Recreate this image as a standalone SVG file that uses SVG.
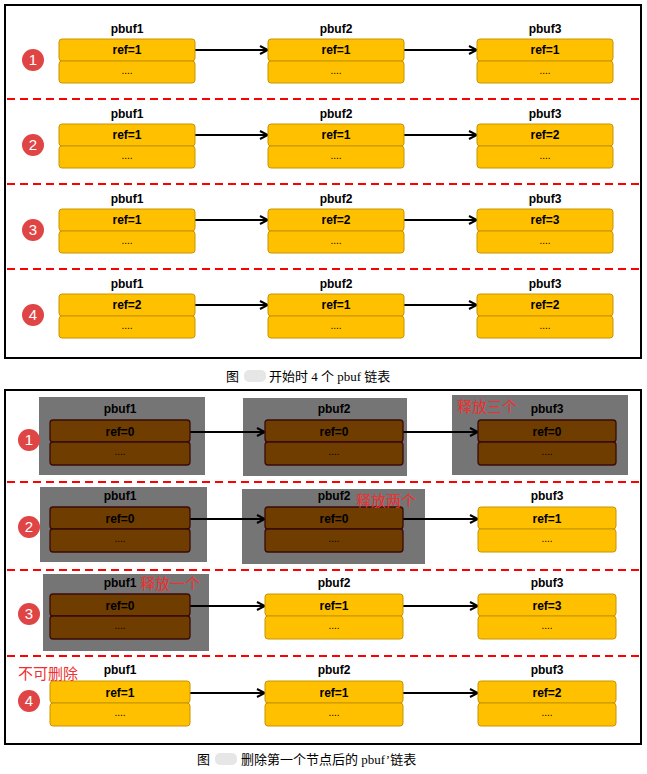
<svg xmlns="http://www.w3.org/2000/svg" width="647" height="774" viewBox="0 0 647 774">
<defs>
<style>
.fr{fill:#fff;stroke:#000;stroke-width:2}
.dash{stroke:#f00;stroke-width:2;stroke-dasharray:8,5}
.y{fill:#ffc000;stroke:#c89400;stroke-width:1}
.b{fill:#6f3d00;stroke:#3a0a0a;stroke-width:1.3}
.g{fill:#757575}
.lbl{font-family:"Liberation Sans",Arial,sans-serif;font-weight:bold;font-size:12px;text-anchor:middle;fill:#000}
.sm{font-family:"Liberation Sans",Arial,sans-serif;font-size:10px;text-anchor:middle;fill:#000}
.num{font-family:"Liberation Sans",Arial,sans-serif;font-size:15px;text-anchor:middle;fill:#fff}
.red{font-family:"Liberation Serif","Noto Sans CJK SC",serif;font-size:15px;fill:#f03030}
.cap{font-family:"Liberation Serif","Noto Sans CJK SC",serif;font-size:13px;fill:#000}
.ar{stroke:#000;stroke-width:2;fill:none;marker-end:url(#m)}
</style>
<marker id="m" markerWidth="10" markerHeight="10" refX="9" refY="5" orient="auto" markerUnits="userSpaceOnUse"><path d="M1,1 L9,5 L1,9" fill="none" stroke="#000" stroke-width="2"/></marker>
</defs>
<rect class="fr" x="5" y="5" width="636" height="353"/>
<rect class="fr" x="5" y="390" width="636" height="354"/>
<g id="dividers">
<line class="dash" x1="7" y1="99" x2="639" y2="99"/>
<line class="dash" x1="7" y1="184" x2="639" y2="184"/>
<line class="dash" x1="7" y1="269" x2="639" y2="269"/>
<line class="dash" x1="7" y1="482" x2="639" y2="482"/>
<line class="dash" x1="7" y1="570" x2="639" y2="570"/>
<line class="dash" x1="7" y1="656" x2="639" y2="656"/>
</g>
<g id="shades">
<rect class="g" x="39" y="397" width="166" height="78"/>
<rect class="g" x="243" y="398" width="164" height="78"/>
<rect class="g" x="452" y="395" width="176" height="80"/>
<rect class="g" x="40" y="487" width="167" height="75"/>
<rect class="g" x="242" y="489" width="183" height="75"/>
<rect class="g" x="43" y="574" width="166" height="77"/>
</g>
<g id="connectors">
<line class="ar" x1="195" y1="50" x2="268" y2="50"/><line class="ar" x1="404" y1="50" x2="477" y2="50"/>
<line class="ar" x1="195" y1="135" x2="268" y2="135"/><line class="ar" x1="404" y1="135" x2="477" y2="135"/>
<line class="ar" x1="195" y1="220" x2="268" y2="220"/><line class="ar" x1="404" y1="220" x2="477" y2="220"/>
<line class="ar" x1="195" y1="305" x2="268" y2="305"/><line class="ar" x1="404" y1="305" x2="477" y2="305"/>
<line class="ar" x1="190" y1="432" x2="265" y2="432"/><line class="ar" x1="403" y1="432" x2="478" y2="432"/>
<line class="ar" x1="190" y1="519" x2="265" y2="519"/><line class="ar" x1="403" y1="519" x2="478" y2="519"/>
<line class="ar" x1="190" y1="606" x2="265" y2="606"/><line class="ar" x1="403" y1="606" x2="478" y2="606"/>
<line class="ar" x1="190" y1="693" x2="265" y2="693"/><line class="ar" x1="403" y1="693" x2="478" y2="693"/>
</g>
<g id="top">
<g id="t1"><circle cx="33" cy="60" r="11" fill="#e04545"/><text class="num" x="33" y="65">1</text>
<text class="lbl" x="127" y="33">pbuf1</text><rect class="y" x="59" y="39" width="136" height="22" rx="3"/><text class="lbl" x="127" y="54">ref=1</text><rect class="y" x="59" y="61" width="136" height="22" rx="3"/><text class="sm" x="127" y="74">....</text>
<text class="lbl" x="336" y="33">pbuf2</text><rect class="y" x="268" y="39" width="136" height="22" rx="3"/><text class="lbl" x="336" y="54">ref=1</text><rect class="y" x="268" y="61" width="136" height="22" rx="3"/><text class="sm" x="336" y="74">....</text>
<text class="lbl" x="545" y="33">pbuf3</text><rect class="y" x="477" y="39" width="136" height="22" rx="3"/><text class="lbl" x="545" y="54">ref=1</text><rect class="y" x="477" y="61" width="136" height="22" rx="3"/><text class="sm" x="545" y="74">....</text></g>
<g id="t2"><circle cx="33" cy="145" r="11" fill="#e04545"/><text class="num" x="33" y="150">2</text>
<text class="lbl" x="127" y="118">pbuf1</text><rect class="y" x="59" y="124" width="136" height="22" rx="3"/><text class="lbl" x="127" y="139">ref=1</text><rect class="y" x="59" y="146" width="136" height="22" rx="3"/><text class="sm" x="127" y="159">....</text>
<text class="lbl" x="336" y="118">pbuf2</text><rect class="y" x="268" y="124" width="136" height="22" rx="3"/><text class="lbl" x="336" y="139">ref=1</text><rect class="y" x="268" y="146" width="136" height="22" rx="3"/><text class="sm" x="336" y="159">....</text>
<text class="lbl" x="545" y="118">pbuf3</text><rect class="y" x="477" y="124" width="136" height="22" rx="3"/><text class="lbl" x="545" y="139">ref=2</text><rect class="y" x="477" y="146" width="136" height="22" rx="3"/><text class="sm" x="545" y="159">....</text></g>
<g id="t3"><circle cx="33" cy="230" r="11" fill="#e04545"/><text class="num" x="33" y="235">3</text>
<text class="lbl" x="127" y="203">pbuf1</text><rect class="y" x="59" y="209" width="136" height="22" rx="3"/><text class="lbl" x="127" y="224">ref=1</text><rect class="y" x="59" y="231" width="136" height="22" rx="3"/><text class="sm" x="127" y="244">....</text>
<text class="lbl" x="336" y="203">pbuf2</text><rect class="y" x="268" y="209" width="136" height="22" rx="3"/><text class="lbl" x="336" y="224">ref=2</text><rect class="y" x="268" y="231" width="136" height="22" rx="3"/><text class="sm" x="336" y="244">....</text>
<text class="lbl" x="545" y="203">pbuf3</text><rect class="y" x="477" y="209" width="136" height="22" rx="3"/><text class="lbl" x="545" y="224">ref=3</text><rect class="y" x="477" y="231" width="136" height="22" rx="3"/><text class="sm" x="545" y="244">....</text></g>
<g id="t4"><circle cx="33" cy="315" r="11" fill="#e04545"/><text class="num" x="33" y="320">4</text>
<text class="lbl" x="127" y="288">pbuf1</text><rect class="y" x="59" y="294" width="136" height="22" rx="3"/><text class="lbl" x="127" y="309">ref=2</text><rect class="y" x="59" y="316" width="136" height="22" rx="3"/><text class="sm" x="127" y="329">....</text>
<text class="lbl" x="336" y="288">pbuf2</text><rect class="y" x="268" y="294" width="136" height="22" rx="3"/><text class="lbl" x="336" y="309">ref=1</text><rect class="y" x="268" y="316" width="136" height="22" rx="3"/><text class="sm" x="336" y="329">....</text>
<text class="lbl" x="545" y="288">pbuf3</text><rect class="y" x="477" y="294" width="136" height="22" rx="3"/><text class="lbl" x="545" y="309">ref=2</text><rect class="y" x="477" y="316" width="136" height="22" rx="3"/><text class="sm" x="545" y="329">....</text></g>
</g>
<g id="caption1"><text class="cap" x="226" y="381">图</text><rect x="244" y="370" width="22" height="12" rx="5" fill="#e6e6e6"/><text class="cap" x="269" y="381">开始时 4 个 pbuf 链表</text></g>
<g id="bottom">
<g id="b1"><circle cx="29" cy="440" r="11" fill="#e04545"/><text class="num" x="29" y="445">1</text>
<text class="lbl" x="120" y="413">pbuf1</text><rect class="b" x="50" y="420" width="140" height="22" rx="3"/><text class="lbl" x="120" y="436">ref=0</text><rect class="b" x="50" y="442" width="140" height="23" rx="3"/><text class="sm" x="120" y="455">....</text>
<text class="lbl" x="334" y="413">pbuf2</text><rect class="b" x="265" y="420" width="138" height="22" rx="3"/><text class="lbl" x="334" y="436">ref=0</text><rect class="b" x="265" y="442" width="138" height="23" rx="3"/><text class="sm" x="334" y="455">....</text>
<text class="lbl" x="547" y="413">pbuf3</text><rect class="b" x="478" y="420" width="138" height="22" rx="3"/><text class="lbl" x="547" y="436">ref=0</text><rect class="b" x="478" y="442" width="138" height="23" rx="3"/><text class="sm" x="547" y="455">....</text>
<text class="red" x="457" y="412">释放三个</text></g>
<g id="b2"><circle cx="29" cy="527" r="11" fill="#e04545"/><text class="num" x="29" y="532">2</text>
<text class="lbl" x="120" y="500">pbuf1</text><rect class="b" x="50" y="507" width="140" height="22" rx="3"/><text class="lbl" x="120" y="523">ref=0</text><rect class="b" x="50" y="529" width="140" height="23" rx="3"/><text class="sm" x="120" y="542">....</text>
<text class="lbl" x="334" y="500">pbuf2</text><rect class="b" x="265" y="507" width="138" height="22" rx="3"/><text class="lbl" x="334" y="523">ref=0</text><rect class="b" x="265" y="529" width="138" height="23" rx="3"/><text class="sm" x="334" y="542">....</text>
<text class="lbl" x="547" y="500">pbuf3</text><rect class="y" x="478" y="507" width="138" height="22" rx="3"/><text class="lbl" x="547" y="523">ref=1</text><rect class="y" x="478" y="529" width="138" height="23" rx="3"/><text class="sm" x="547" y="542">....</text>
<text class="red" x="356" y="506">释放两个</text></g>
<g id="b3"><circle cx="29" cy="614" r="11" fill="#e04545"/><text class="num" x="29" y="619">3</text>
<text class="lbl" x="120" y="587">pbuf1</text><rect class="b" x="50" y="594" width="140" height="22" rx="3"/><text class="lbl" x="120" y="610">ref=0</text><rect class="b" x="50" y="616" width="140" height="23" rx="3"/><text class="sm" x="120" y="629">....</text>
<text class="lbl" x="334" y="587">pbuf2</text><rect class="y" x="265" y="594" width="138" height="22" rx="3"/><text class="lbl" x="334" y="610">ref=1</text><rect class="y" x="265" y="616" width="138" height="23" rx="3"/><text class="sm" x="334" y="629">....</text>
<text class="lbl" x="547" y="587">pbuf3</text><rect class="y" x="478" y="594" width="138" height="22" rx="3"/><text class="lbl" x="547" y="610">ref=3</text><rect class="y" x="478" y="616" width="138" height="23" rx="3"/><text class="sm" x="547" y="629">....</text>
<text class="red" x="140" y="589">释放一个</text></g>
<g id="b4"><circle cx="29" cy="701" r="11" fill="#e04545"/><text class="num" x="29" y="706">4</text>
<text class="lbl" x="120" y="674">pbuf1</text><rect class="y" x="50" y="681" width="140" height="22" rx="3"/><text class="lbl" x="120" y="697">ref=1</text><rect class="y" x="50" y="703" width="140" height="23" rx="3"/><text class="sm" x="120" y="716">....</text>
<text class="lbl" x="334" y="674">pbuf2</text><rect class="y" x="265" y="681" width="138" height="22" rx="3"/><text class="lbl" x="334" y="697">ref=1</text><rect class="y" x="265" y="703" width="138" height="23" rx="3"/><text class="sm" x="334" y="716">....</text>
<text class="lbl" x="547" y="674">pbuf3</text><rect class="y" x="478" y="681" width="138" height="22" rx="3"/><text class="lbl" x="547" y="697">ref=2</text><rect class="y" x="478" y="703" width="138" height="23" rx="3"/><text class="sm" x="547" y="716">....</text>
<text class="red" x="18" y="679">不可删除</text></g>
</g>
<g id="caption2"><text class="cap" x="197" y="764">图</text><rect x="215" y="753" width="22" height="12" rx="5" fill="#e6e6e6"/><text class="cap" x="241" y="764">删除第一个节点后的 pbuf’链表</text></g>
</svg>
